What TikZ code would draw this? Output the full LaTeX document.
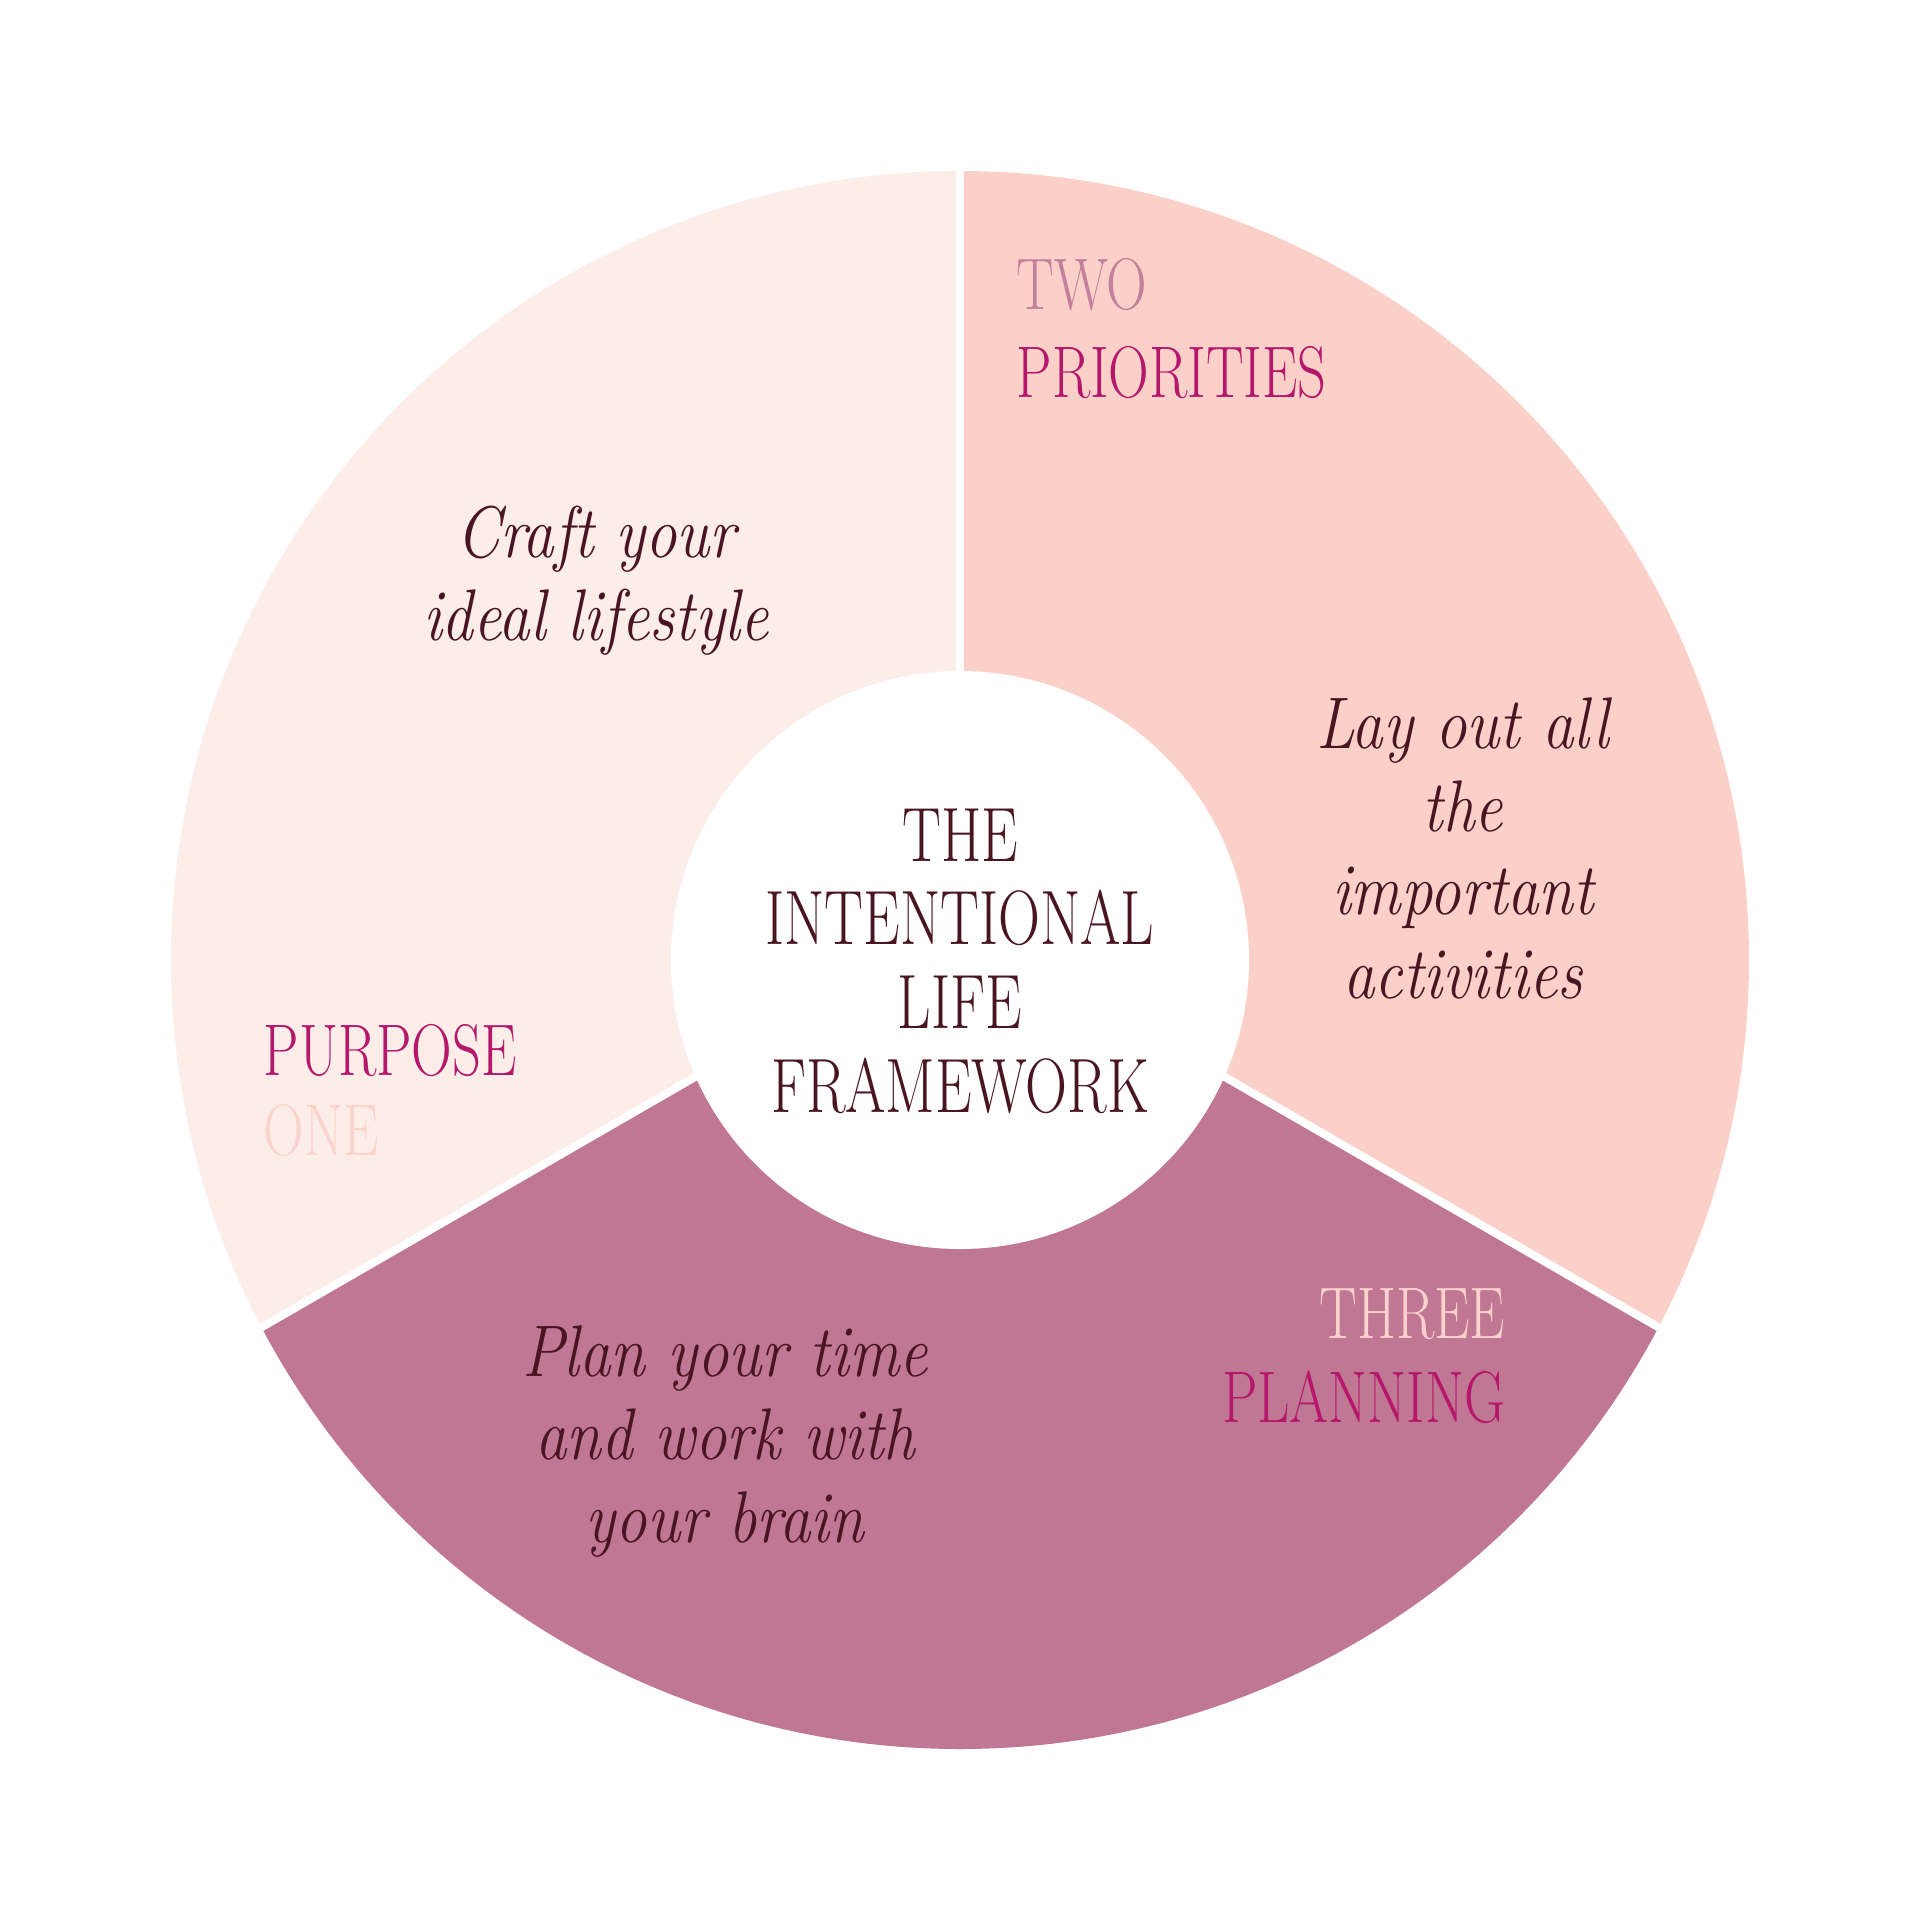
\documentclass[tikz,border=0pt]{standalone}
\usepackage{graphicx}
\definecolor{segA}{HTML}{FCEDE9}
\definecolor{segB}{HTML}{FBD0C9}
\definecolor{segC}{HTML}{BF7794}
\definecolor{ink}{HTML}{4A1522}
\definecolor{mag}{HTML}{B5176A}
\definecolor{lpink}{HTML}{FBD3CC}
\definecolor{mauve}{HTML}{C47F9B}
\newcommand\mylabtext[1]{\scalebox{0.77}[1]{#1}}
\newcommand\mytitletext[1]{\scalebox{0.755}[1]{\begin{tabular}[t]{@{}c@{}}#1\end{tabular}}}
\newcommand\mybodytext[1]{\scalebox{0.86}[1]{\begin{tabular}[t]{@{}c@{}}#1\end{tabular}}}
\tikzset{
  labstyle/.style={inner sep=0pt, font=\fontsize{20.8}{24}\selectfont},
  titlestyle/.style={inner sep=0pt, anchor=base, text=ink, font=\fontsize{21.9}{23.8}\selectfont},
  bodystyle/.style={inner sep=0pt, anchor=base, text=ink, font=\fontsize{20.8}{23.7}\selectfont\itshape},
  gapline/.style={white, line width=0.08cm}
}
\begin{document}
\begin{tikzpicture}[x=0.01cm,y=-0.01cm]
\useasboundingbox (0,0) rectangle (1920,1920);
\fill[white] (0,0) rectangle (1920,1920);
\coordinate (C) at (960,960);
\coordinate (P) at (960,924);
\coordinate (T) at (960,0);
\coordinate (L) at (0,1478.3);
\coordinate (R) at (1920,1478.3);
\begin{scope}
  \clip (C) circle [radius=789];
  \fill[segA] (P) -- (T) -- (0,0) -- (L) -- cycle;
  \fill[segB] (P) -- (T) -- (1920,0) -- (R) -- cycle;
  \fill[segC] (P) -- (L) -- (0,1920) -- (1920,1920) -- (R) -- cycle;
  \draw[gapline] (T) -- (P);
  \draw[gapline] (P) -- (L);
  \draw[gapline] (P) -- (R);
\end{scope}
\fill[white] (C) circle [radius=289];

\node[titlestyle] (title) at (960,861) {\mytitletext{THE\\INTENTIONAL\\LIFE\\FRAMEWORK}};

\node[bodystyle] (craft) at (596,557) {\mybodytext{Craft your\\ideal lifestyle}};
\node[bodystyle] (layout) at (1463,748) {\mybodytext{Lay out all\\the\\important\\activities}};
\node[bodystyle] (plan) at (725,1376) {\mybodytext{Plan your time\\and work with\\your brain}};

\node[labstyle, anchor=base west, text=mag] (purpose) at (263,1075) {\mylabtext{PURPOSE}};
\node[labstyle, anchor=base west, text=lpink] (one) at (263,1155) {\mylabtext{ONE}};
\node[labstyle, anchor=base west, text=mauve] (two) at (1016,309) {\mylabtext{TWO}};
\node[labstyle, anchor=base west, text=mag] (priorities) at (1016,397) {\mylabtext{PRIORITIES}};
\node[labstyle, anchor=base east, text=lpink] (three) at (1506,1338) {\mylabtext{THREE}};
\node[labstyle, anchor=base east, text=mag] (planning) at (1506,1422) {\mylabtext{PLANNING}};
\end{tikzpicture}
\end{document}
